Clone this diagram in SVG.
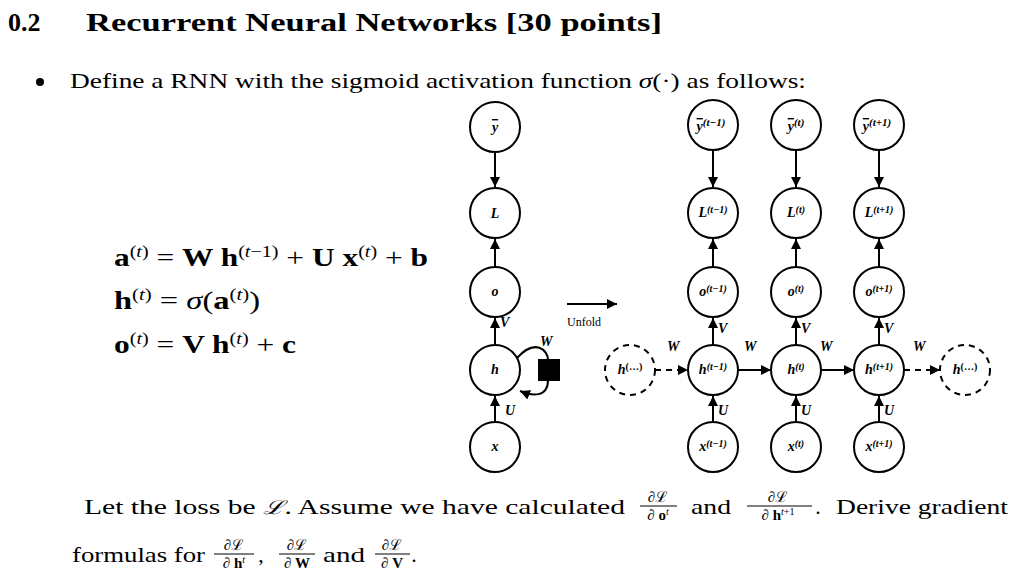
<svg xmlns="http://www.w3.org/2000/svg" width="1024" height="588" viewBox="0 0 1024 588">
<style>
.t{font-family:"Liberation Serif","DejaVu Serif",serif;fill:#000}
.n{fill:#fff;stroke:#000;stroke-width:2}
.d{fill:#fff;stroke:#000;stroke-width:2;stroke-dasharray:6 5}
.lb{font-family:"Liberation Serif",serif;font-style:italic;font-weight:bold;font-size:14px;text-anchor:middle}
.sp{font-size:10px;font-weight:bold}
.e{stroke:#000;stroke-width:2;fill:none}
.de{stroke:#000;stroke-width:2;fill:none;stroke-dasharray:6 5}
.m{font-family:"Liberation Serif",serif;font-style:italic;font-weight:bold;font-size:14px}
</style>
<defs>
<marker id="a" viewBox="0 0 10 10" refX="10" refY="5" markerWidth="5" markerHeight="5" orient="auto"><path d="M0 0L10 5L0 10z"/></marker>
</defs>
<rect width="1024" height="588" fill="#fff"/>
<text class="t" x="8" y="31" font-size="26" font-weight="bold">0.2</text>
<text class="t" x="86" y="31" font-size="26" font-weight="bold" textLength="576" lengthAdjust="spacingAndGlyphs">Recurrent Neural Networks [30 points]</text>
<circle cx="40" cy="82" r="4"/>
<text class="t" x="70" y="88" font-size="22" textLength="736" lengthAdjust="spacingAndGlyphs">Define a RNN with the sigmoid activation function <tspan font-style="italic">σ</tspan>(·) as follows:</text>
<g class="t" font-size="25">
<text x="114" y="266" textLength="314" lengthAdjust="spacingAndGlyphs"><tspan font-weight="bold">a</tspan><tspan font-size="16" dy="-9">(<tspan font-style="italic">t</tspan>)</tspan><tspan dy="9"> = </tspan><tspan font-weight="bold">W h</tspan><tspan font-size="16" dy="-9">(<tspan font-style="italic">t</tspan>−1)</tspan><tspan dy="9"> + </tspan><tspan font-weight="bold">U x</tspan><tspan font-size="16" dy="-9">(<tspan font-style="italic">t</tspan>)</tspan><tspan dy="9"> + </tspan><tspan font-weight="bold">b</tspan></text>
<text x="114" y="309" textLength="146" lengthAdjust="spacingAndGlyphs"><tspan font-weight="bold">h</tspan><tspan font-size="16" dy="-9">(<tspan font-style="italic">t</tspan>)</tspan><tspan dy="9"> = </tspan><tspan font-style="italic">σ</tspan>(<tspan font-weight="bold">a</tspan><tspan font-size="16" dy="-9">(<tspan font-style="italic">t</tspan>)</tspan><tspan dy="9">)</tspan></text>
<text x="114" y="353" textLength="182" lengthAdjust="spacingAndGlyphs"><tspan font-weight="bold">o</tspan><tspan font-size="16" dy="-9">(<tspan font-style="italic">t</tspan>)</tspan><tspan dy="9"> = </tspan><tspan font-weight="bold">V h</tspan><tspan font-size="16" dy="-9">(<tspan font-style="italic">t</tspan>)</tspan><tspan dy="9"> + </tspan><tspan font-weight="bold">c</tspan></text>
</g>
<g id="connectors">
<line class="e" x1="495" y1="152" x2="495" y2="187" marker-end="url(#a)"/>
<line class="e" x1="495" y1="267" x2="495" y2="239" marker-end="url(#a)"/>
<line class="e" x1="495" y1="345" x2="495" y2="318" marker-end="url(#a)"/>
<line class="e" x1="495" y1="422" x2="495" y2="396" marker-end="url(#a)"/>
<path class="e" d="M517 358 C535 338 548 350 548 360"/>
<path class="e" d="M548 380 C548 398 532 396 520 391" marker-end="url(#a)"/>
<line class="e" x1="567" y1="304" x2="617" y2="304" marker-end="url(#a)"/>
<g>
<line class="e" x1="713" y1="150" x2="713" y2="187" marker-end="url(#a)"/>
<line class="e" x1="796" y1="150" x2="796" y2="187" marker-end="url(#a)"/>
<line class="e" x1="879" y1="150" x2="879" y2="187" marker-end="url(#a)"/>
<line class="e" x1="713" y1="267" x2="713" y2="239" marker-end="url(#a)"/>
<line class="e" x1="796" y1="267" x2="796" y2="239" marker-end="url(#a)"/>
<line class="e" x1="879" y1="267" x2="879" y2="239" marker-end="url(#a)"/>
<line class="e" x1="713" y1="345" x2="713" y2="318" marker-end="url(#a)"/>
<line class="e" x1="796" y1="345" x2="796" y2="318" marker-end="url(#a)"/>
<line class="e" x1="879" y1="345" x2="879" y2="318" marker-end="url(#a)"/>
<line class="e" x1="713" y1="422" x2="713" y2="396" marker-end="url(#a)"/>
<line class="e" x1="796" y1="422" x2="796" y2="396" marker-end="url(#a)"/>
<line class="e" x1="879" y1="422" x2="879" y2="396" marker-end="url(#a)"/>
<line class="de" x1="655" y1="370" x2="688" y2="370" marker-end="url(#a)"/>
<line class="e" x1="738" y1="370" x2="771" y2="370" marker-end="url(#a)"/>
<line class="e" x1="821" y1="370" x2="854" y2="370" marker-end="url(#a)"/>
<line class="de" x1="904" y1="370" x2="940" y2="370" marker-end="url(#a)"/>
</g>
<g class="m">
<text x="500" y="327">V</text><text x="505" y="415">U</text><text x="540" y="346">W</text>
<text x="718" y="333">V</text><text x="801" y="333">V</text><text x="884" y="333">V</text>
<text x="718" y="415">U</text><text x="801" y="415">U</text><text x="884" y="415">U</text>
<text x="667" y="351">W</text><text x="744" y="351">W</text><text x="820" y="351">W</text><text x="913" y="351">W</text>
</g>
<text class="t" x="567" y="326" font-size="12">Unfold</text>
</g>
<rect x="538" y="359" width="22" height="22" fill="#000"/>
<g id="y0"><circle class="n" cx="495" cy="127" r="25"/><text class="lb" x="495" y="132" style="text-decoration:overline">y</text></g>
<g id="L0"><circle class="n" cx="495" cy="213" r="25"/><text class="lb" x="495" y="218" font-size="11">L</text></g>
<g id="o0"><circle class="n" cx="495" cy="292" r="25"/><text class="lb" x="495" y="296" font-size="11">o</text></g>
<g id="h0"><circle class="n" cx="495" cy="370" r="25"/><text class="lb" x="495" y="374" font-size="11">h</text></g>
<g id="x0"><circle class="n" cx="495" cy="447" r="25"/><text class="lb" x="495" y="451" font-size="11">x</text></g>
<g id="hL"><circle class="d" cx="630" cy="370" r="25"/><text class="lb" x="630" y="374" font-size="12">h<tspan class="sp" dy="-4" font-style="normal">(…)</tspan></text></g>
<g id="hR"><circle class="d" cx="965" cy="370" r="25"/><text class="lb" x="965" y="374" font-size="12">h<tspan class="sp" dy="-4" font-style="normal">(…)</tspan></text></g>
<g id="c1">
<g id="y1"><circle class="n" cx="713" cy="125" r="25"/><text class="lb" x="711" y="131" font-size="14"><tspan style="text-decoration:overline">y</tspan><tspan font-size="11" dy="-5">(t−1)</tspan></text></g>
<g id="L1"><circle class="n" cx="713" cy="213" r="25"/><text class="lb" x="713" y="217" font-size="12">L<tspan class="sp" dy="-4" font-weight="normal">(t−1)</tspan></text></g>
<g id="o1"><circle class="n" cx="713" cy="292" r="25"/><text class="lb" x="713" y="296" font-size="12">o<tspan class="sp" dy="-4" font-weight="normal">(t−1)</tspan></text></g>
<g id="h1"><circle class="n" cx="713" cy="370" r="25"/><text class="lb" x="713" y="374" font-size="12">h<tspan class="sp" dy="-4" font-weight="normal">(t−1)</tspan></text></g>
<g id="x1"><circle class="n" cx="713" cy="447" r="25"/><text class="lb" x="713" y="451" font-size="12">x<tspan class="sp" dy="-4" font-weight="normal">(t−1)</tspan></text></g>
</g>
<g id="c2">
<g id="y2"><circle class="n" cx="796" cy="125" r="25"/><text class="lb" x="796" y="131" font-size="14"><tspan style="text-decoration:overline">y</tspan><tspan font-size="11" dy="-5">(t)</tspan></text></g>
<g id="L2"><circle class="n" cx="796" cy="213" r="25"/><text class="lb" x="796" y="217" font-size="12">L<tspan class="sp" dy="-4" font-weight="normal">(t)</tspan></text></g>
<g id="o2"><circle class="n" cx="796" cy="292" r="25"/><text class="lb" x="796" y="296" font-size="12">o<tspan class="sp" dy="-4" font-weight="normal">(t)</tspan></text></g>
<g id="h2"><circle class="n" cx="796" cy="370" r="25"/><text class="lb" x="796" y="374" font-size="12">h<tspan class="sp" dy="-4" font-weight="normal">(t)</tspan></text></g>
<g id="x2"><circle class="n" cx="796" cy="447" r="25"/><text class="lb" x="796" y="451" font-size="12">x<tspan class="sp" dy="-4" font-weight="normal">(t)</tspan></text></g>
</g>
<g id="c3">
<g id="y3"><circle class="n" cx="879" cy="125" r="25"/><text class="lb" x="877" y="131" font-size="14"><tspan style="text-decoration:overline">y</tspan><tspan font-size="11" dy="-5">(t+1)</tspan></text></g>
<g id="L3"><circle class="n" cx="879" cy="213" r="25"/><text class="lb" x="879" y="217" font-size="12">L<tspan class="sp" dy="-4" font-weight="normal">(t+1)</tspan></text></g>
<g id="o3"><circle class="n" cx="879" cy="292" r="25"/><text class="lb" x="879" y="296" font-size="12">o<tspan class="sp" dy="-4" font-weight="normal">(t+1)</tspan></text></g>
<g id="h3"><circle class="n" cx="879" cy="370" r="25"/><text class="lb" x="879" y="374" font-size="12">h<tspan class="sp" dy="-4" font-weight="normal">(t+1)</tspan></text></g>
<g id="x3"><circle class="n" cx="879" cy="447" r="25"/><text class="lb" x="879" y="451" font-size="12">x<tspan class="sp" dy="-4" font-weight="normal">(t+1)</tspan></text></g>
</g>
<g class="t" font-size="22">
<text x="84" y="514" textLength="541" lengthAdjust="spacingAndGlyphs">Let the loss be <tspan font-family="DejaVu Serif" font-style="italic" font-size="19">ℒ</tspan>.  Assume we have calculated</text>
<text x="691" y="514" textLength="40" lengthAdjust="spacingAndGlyphs">and</text>
<text x="836" y="514" textLength="172" lengthAdjust="spacingAndGlyphs">Derive gradient</text>
<text x="72" y="562" textLength="133" lengthAdjust="spacingAndGlyphs">formulas for</text>
<text x="323" y="562" textLength="42" lengthAdjust="spacingAndGlyphs">and</text>
</g>
<g class="t" font-size="15" text-anchor="middle">
<text x="658" y="502">∂ℒ</text><line x1="640" y1="506" x2="677" y2="506" stroke="#000"/><text x="658" y="520">∂ <tspan font-weight="bold">o</tspan><tspan font-size="10" dy="-5" font-style="italic">t</tspan></text>
<text x="778" y="502">∂ℒ</text><line x1="747" y1="506" x2="812" y2="506" stroke="#000"/><text x="778" y="520">∂ <tspan font-weight="bold">h</tspan><tspan font-size="10" dy="-5"><tspan font-style="italic">t</tspan>+1</tspan></text>
<text x="818" y="514" font-size="22">.</text>
<text x="234" y="550">∂ℒ</text><line x1="214" y1="554" x2="254" y2="554" stroke="#000"/><text x="234" y="568">∂ <tspan font-weight="bold">h</tspan><tspan font-size="10" dy="-5" font-style="italic">t</tspan></text>
<text x="261" y="562" font-size="22">,</text>
<text x="297" y="550">∂ℒ</text><line x1="279" y1="554" x2="315" y2="554" stroke="#000"/><text x="297" y="568">∂ <tspan font-weight="bold">W</tspan></text>
<text x="392" y="550">∂ℒ</text><line x1="375" y1="554" x2="410" y2="554" stroke="#000"/><text x="392" y="568">∂ <tspan font-weight="bold">V</tspan></text>
<text x="414" y="562" font-size="22">.</text>
</g>
</svg>
